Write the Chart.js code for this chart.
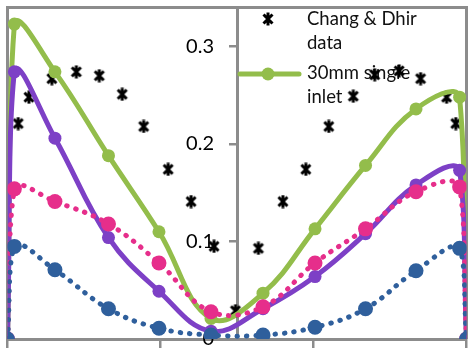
<!DOCTYPE html>
<html>
<head>
<meta charset="utf-8">
<script src="https://cdn.jsdelivr.net/npm/chart.js@4.4.1/dist/chart.umd.min.js"></script>
<style>
  html, body { margin: 0; padding: 0; background: #fff; }
  #wrap { width: 474px; height: 348px; position: relative; }
</style>
</head>
<body>
<div id="wrap"><canvas id="chart"></canvas></div>
<script>
// Radial positions shared by the four simulated profiles
const xPos = [-1.5, -1.455, -1.19, -0.84, -0.51, -0.17, 0.17, 0.51, 0.84, 1.17, 1.455, 1.5];

// Simulated profiles
const greenVals  = [0, 0.323, 0.274, 0.188, 0.110, 0.021, 0.047, 0.113, 0.178, 0.236, 0.248, 0];
const purpleVals = [0, 0.274, 0.206, 0.104, 0.049, 0.008, 0.031, 0.064, 0.108, 0.158, 0.173, 0];
const pinkVals   = [0, 0.154, 0.141, 0.118, 0.078, 0.028, 0.033, 0.078, 0.113, 0.151, 0.156, 0];
const blueVals   = [0, 0.095, 0.071, 0.031, 0.011, 0.004, 0.004, 0.012, 0.031, 0.070, 0.093, 0];

// Chang & Dhir measurements
const changX = [-1.43, -1.36, -1.21, -1.05, -0.90, -0.75, -0.61, -0.45, -0.30, -0.15, -0.01,
                0.14, 0.30, 0.45, 0.60, 0.76, 0.90, 1.06, 1.20, 1.37, 1.43];
const changY = [0.221, 0.248, 0.267, 0.274, 0.270, 0.251, 0.218, 0.174, 0.141, 0.095, 0.029,
                0.093, 0.141, 0.174, 0.218, 0.249, 0.271, 0.275, 0.267, 0.248, 0.221];

const xTicks = [-1.5, -0.5, 0.5, 1.5];
const yTicks = [0, 0.1, 0.2, 0.3];

const legendNames = [['Chang & Dhir', 'data'], ['30mm single', 'inlet']];

const AXIS = '#8c8c8c';
const FONT = "Lato, 'Liberation Sans', sans-serif";

// Excel style "*" marker: X with a vertical bar
function starMarker() {
  const c = document.createElement('canvas');
  c.width = 14; c.height = 14;
  const g = c.getContext('2d');
  g.strokeStyle = '#000';
  g.lineWidth = 3;
  g.beginPath();
  g.moveTo(2.5, 2.5); g.lineTo(11.5, 11.5);
  g.moveTo(11.5, 2.5); g.lineTo(2.5, 11.5);
  g.moveTo(7, 0.5); g.lineTo(7, 13.5);
  g.stroke();
  return c;
}
const star = starMarker();

function pts(xs, ys) {
  return xs.map((x, i) => ({ x: x, y: ys[i] }));
}

function profile(vals, color, dotted, order) {
  return {
    data: pts(xPos, vals),
    showLine: true,
    borderColor: color,
    backgroundColor: color,
    borderWidth: 5,
    borderDash: dotted ? [0.5, 9] : [],
    borderCapStyle: 'round',
    tension: 0.4,
    pointRadius: dotted ? 7.5 : 6.5,
    pointBorderWidth: 0,
    pointBackgroundColor: color,
    order: order
  };
}

// Plot frame and in-chart legend, drawn under the data
const frameAndLegend = {
  id: 'frameAndLegend',
  beforeDatasetsDraw(chart) {
    const { ctx, chartArea: a } = chart;
    ctx.save();
    ctx.strokeStyle = AXIS;
    ctx.lineWidth = 3;
    ctx.beginPath();
    ctx.moveTo(a.left, a.bottom);
    ctx.lineTo(a.left, a.top);
    ctx.lineTo(a.right, a.top);
    ctx.lineTo(a.right, a.bottom);
    ctx.stroke();

    // legend entry 1
    ctx.drawImage(star, 261, 12);
    // legend entry 2
    ctx.strokeStyle = '#93bd4b';
    ctx.lineWidth = 5;
    ctx.lineCap = 'round';
    ctx.beginPath();
    ctx.moveTo(240, 74); ctx.lineTo(299, 74);
    ctx.stroke();
    ctx.fillStyle = '#93bd4b';
    ctx.beginPath();
    ctx.arc(268, 74, 6.5, 0, Math.PI * 2);
    ctx.fill();

    ctx.fillStyle = '#111';
    ctx.font = '18.5px ' + FONT;
    ctx.textBaseline = 'middle';
    ctx.textAlign = 'left';
    legendNames.forEach((lines, i) => {
      lines.forEach((t, j) => ctx.fillText(t, 307, 19 + i * 54 + j * 24));
    });
    ctx.restore();
  }
};

const ctx = document.getElementById('chart').getContext('2d');
new Chart(ctx, {
  type: 'scatter',
  data: {
    datasets: [
      {
        label: 'Chang & Dhir data',
        data: pts(changX, changY),
        showLine: false,
        pointStyle: star,
        order: 5
      },
      Object.assign({ label: '30mm single inlet' }, profile(greenVals, '#93bd4b', false, 4)),
      profile(purpleVals, '#7d40c6', false, 3),
      profile(pinkVals, '#e62e8b', true, 2),
      profile(blueVals, '#2f5f9c', true, 1)
    ]
  },
  options: {
    responsive: true,
    maintainAspectRatio: false,
    animation: false,
    events: [],
    layout: { padding: { left: 7, right: 7, top: 2, bottom: 0 } },
    plugins: {
      legend: { display: false },
      tooltip: { enabled: false }
    },
    scales: {
      x: {
        type: 'linear',
        position: 'bottom',
        min: -1.5,
        max: 1.5,
        afterBuildTicks: (s) => { s.ticks = xTicks.map(v => ({ value: v })); },
        ticks: { display: false },
        grid: { drawOnChartArea: false, color: AXIS, lineWidth: 2.5, tickLength: 9 },
        border: { display: true, color: AXIS, width: 3 }
      },
      y: {
        type: 'linear',
        position: 'center',
        min: 0,
        max: 0.34,
        afterBuildTicks: (s) => { s.ticks = yTicks.map(v => ({ value: v })); },
        ticks: {
          padding: 0,
          color: '#000',
          font: { family: FONT, size: 20, lineHeight: 0.2 },
          callback: (v) => v === 0 ? '0' : v.toFixed(1)
        },
        grid: {
          drawOnChartArea: false,
          color: AXIS,
          lineWidth: 2.5,
          tickLength: 23,
          tickBorderDash: [7, 40]
        },
        border: { display: true, color: AXIS, width: 3 }
      }
    }
  },
  plugins: [frameAndLegend]
});
</script>
</body>
</html>
